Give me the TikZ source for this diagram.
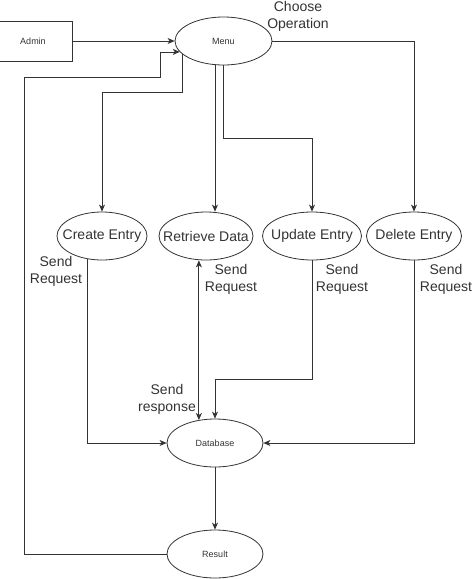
\documentclass[tikz,border=0pt]{standalone}
\usepackage{fontspec}
\setmainfont{Liberation Sans}
\usepackage{tikz}
\usetikzlibrary{shapes.geometric}
\usetikzlibrary{arrows.meta}
\newcommand{\labeltext}{\fontsize{14}{17}\selectfont}
\newcommand{\smalltext}{\fontsize{9}{11}\selectfont}

\begin{document}
\begin{tikzpicture}[x=1pt,y=-1pt,>={Stealth[length=7pt,width=6pt,inset=2pt]}]
  \tikzstyle{every node}=[text=black!80]
  \tikzstyle{proc}=[ellipse, draw=black!80, line width=0.8pt, minimum height=48pt, inner sep=0pt, font=\smalltext]
  \tikzstyle{op}=[proc, inner xsep=-15pt, font=\labeltext]
  \tikzstyle{flow}=[draw=black!80, line width=0.8pt, ->]
  \tikzstyle{note}=[align=center, font=\labeltext, inner sep=0pt]
  \useasboundingbox (0,0) rectangle (474,579);

  \node[draw=black!80, line width=0.8pt, minimum width=78pt, minimum height=40pt, font=\smalltext] (admin) at (33,41) {Admin};
  \node[proc, minimum width=97pt] (menu) at (223.5,41) {Menu};

  % operations
  \node[op, minimum width=90pt] (create) at (102,236) {Create Entry};
  \node[op, minimum width=94pt] (retrieve) at (206,236) {Retrieve Data};
  \node[op, minimum width=99pt] (update) at (312,236) {Update Entry};
  \node[op, minimum width=95pt] (delete) at (414,236) {Delete Entry};

  \node[proc, minimum width=96pt] (database) at (215,443) {Database};
  \node[proc, minimum width=96pt] (result) at (215,554) {Result};

  \coordinate (loopA) at (24,77);
  \coordinate (loopB) at (160,77);

  % labels
  \node[note] (choose) at (298,16.5) {Choose\\Operation};
  \node[note] (reqCreate) at (56,271.5) {Send\\Request};
  \node[note] (reqRetrieve) at (231,279.5) {Send\\Request};
  \node[note] (reqUpdate) at (342,279.5) {Send\\Request};
  \node[note] (reqDelete) at (446,279.5) {Send\\Request};
  \node[note] (response) at (167,399) {Send\\response};

  \draw[flow] (admin) -- (menu);
  \draw[flow] (result.west) -| (loopA) -- (loopB) |- (menu.194);
  \draw[flow] (menu.198) -- ++(0,38) -| (create.north);
  \draw[flow] (menu.south -| database.north) -- (retrieve.north -| database.north);
  \draw[flow] (menu.south) -- ++(0,73) -| (update.north);
  \draw[flow] (menu.east) -| (delete.north);

  \draw[flow] (create.238) |- (database.west);
  \draw[flow, <->] (database.125) -- (database.125 |- retrieve.south);
  \draw[flow] (update.south) -- ++(0,119) -| (database.north);
  \draw[flow] (delete.south) |- (database.east);
  \draw[flow] (database) -- (result);
\end{tikzpicture}
\end{document}
